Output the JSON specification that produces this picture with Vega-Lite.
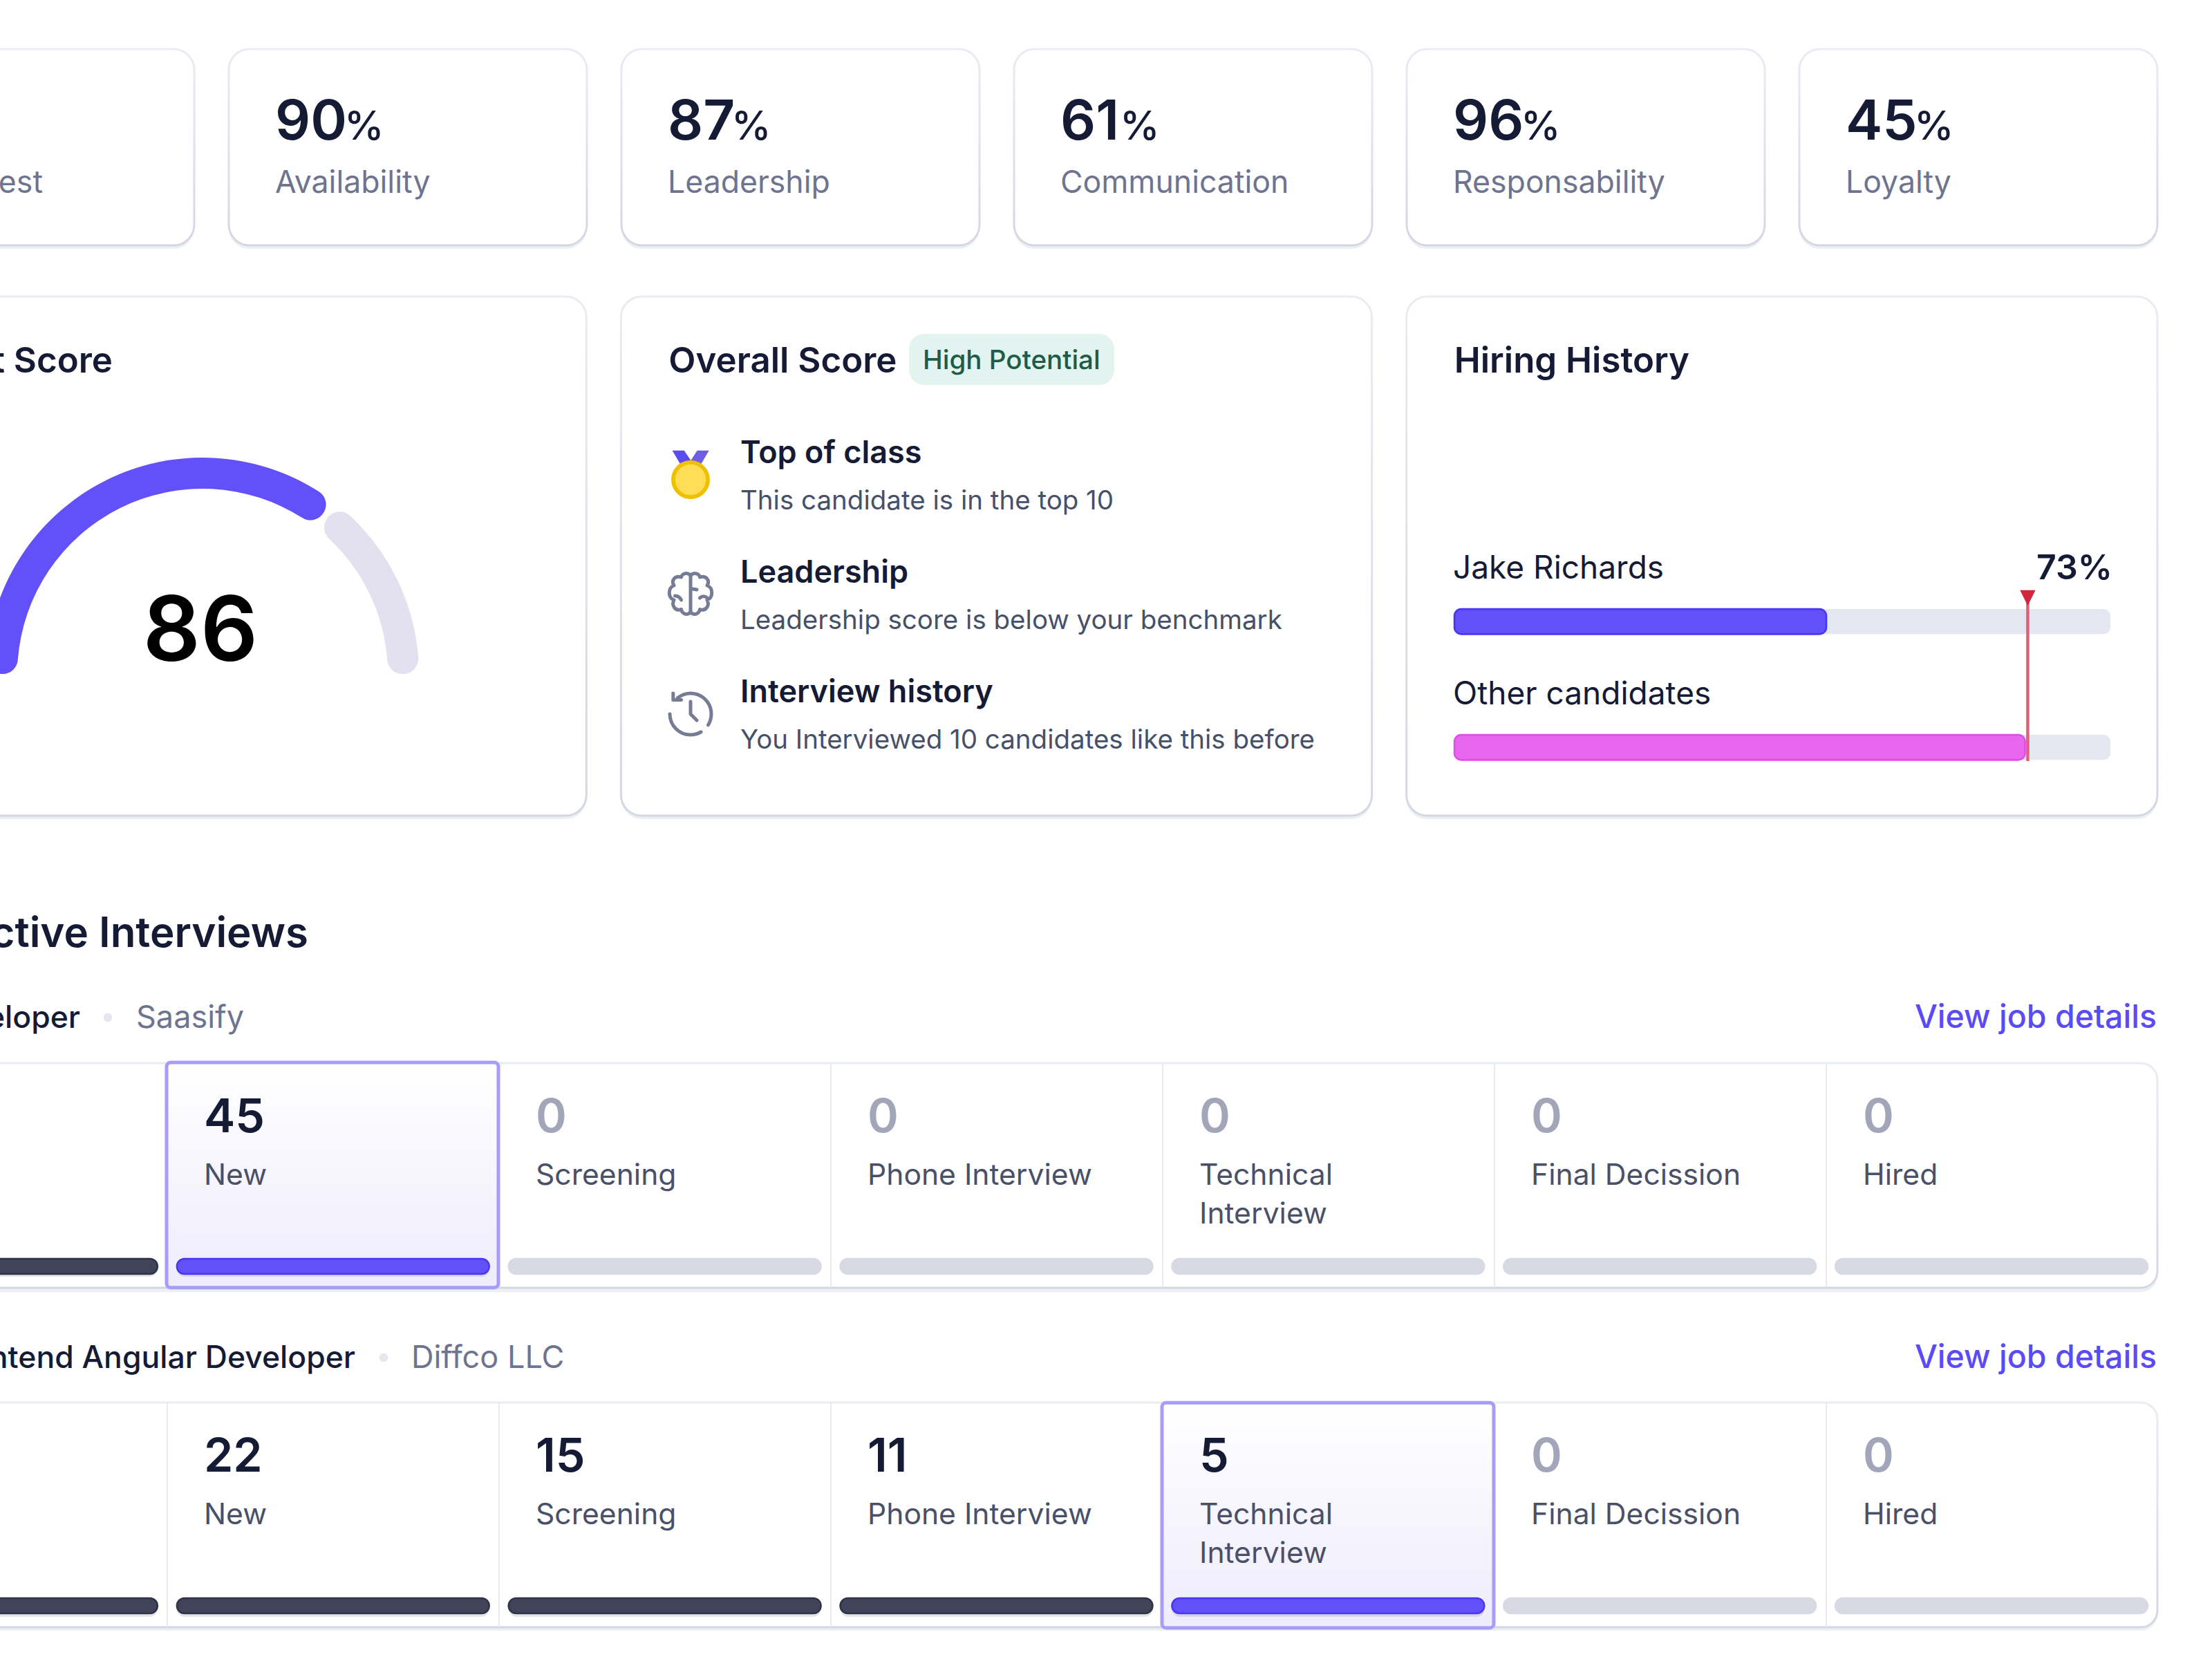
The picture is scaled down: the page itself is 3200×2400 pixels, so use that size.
{
"$schema":"https://vega.github.io/schema/vega-lite/v6.json",
"width":3200,"height":2400,"autosize":{"type":"none"},"padding":0,"background":"#ffffff",
"config":{"view":{"stroke":null},"axis":{"disable":true},"legend":{"disable":true},"font":"Inter","text":{"font":"Inter","baseline":"alphabetic","align":"left"}},
"datasets":{
"ratings":[{"row":"Ratings","metric":"Interest","score":null,"unit":""},{"row":"Ratings","metric":"Availability","score":90,"unit":"%"},{"row":"Ratings","metric":"Leadership","score":87,"unit":"%"},{"row":"Ratings","metric":"Communication","score":61,"unit":"%"},{"row":"Ratings","metric":"Responsability","score":96,"unit":"%"},{"row":"Ratings","metric":"Loyalty","score":45,"unit":"%"}],
"panels":[{"row":"Panels","panel":"Talent Score"},{"row":"Panels","panel":"Overall Score"},{"row":"Panels","panel":"Hiring History"}],
"gauge":[{"gauge":"Talent Score","segment":"Score","start":0,"end":70.5},{"gauge":"Talent Score","segment":"Remaining","start":71.5,"end":100}],
"gaugeValue":[{"gauge":"Talent Score","score":86}],
"badge":[{"badge":"High Potential"}],
"items":[{"panel":"Overall Score","title":"Top of class","detail":"This candidate is in the top 10"},{"panel":"Overall Score","title":"Leadership","detail":"Leadership score is below your benchmark"},{"panel":"Overall Score","title":"Interview history","detail":"You Interviewed 10 candidates like this before"}],
"medal":[{"icon":"Top of class","part":"left"},{"icon":"Top of class","part":"right"},{"icon":"Top of class","part":"rim"},{"icon":"Top of class","part":"face"}],
"lineIcons":[{"icon":"Leadership"},{"icon":"Interview history"}],
"hiring":[{"candidate":"Jake Richards","share":56.7,"track":100,"label":"73%"},{"candidate":"Other candidates","share":87,"track":100,"label":""}],
"benchmark":[{"benchmark":87.4,"low":0,"high":100}],
"heading":[{"heading":"Active Interviews"}],
"jobs":[{"job":"Developer","company":"Saasify","link":"View job details"},{"job":"Frontend Angular Developer","company":"Diffco LLC","link":"View job details"}],
"pipeline":[
{"company":"Saasify","stage":"Applied","count":null,"status":"done"},{"company":"Saasify","stage":"New","count":45,"status":"active"},{"company":"Saasify","stage":"Screening","count":0,"status":"empty"},{"company":"Saasify","stage":"Phone Interview","count":0,"status":"empty"},{"company":"Saasify","stage":"Technical\nInterview","count":0,"status":"empty"},{"company":"Saasify","stage":"Final Decission","count":0,"status":"empty"},{"company":"Saasify","stage":"Hired","count":0,"status":"empty"},
{"company":"Diffco LLC","stage":"Applied","count":null,"status":"done"},{"company":"Diffco LLC","stage":"New","count":22,"status":"done"},{"company":"Diffco LLC","stage":"Screening","count":15,"status":"done"},{"company":"Diffco LLC","stage":"Phone Interview","count":11,"status":"done"},{"company":"Diffco LLC","stage":"Technical\nInterview","count":5,"status":"active"},{"company":"Diffco LLC","stage":"Final Decission","count":0,"status":"empty"},{"company":"Diffco LLC","stage":"Hired","count":0,"status":"empty"}]
},
"resolve":{"scale":{"x":"independent","y":"independent","color":"independent","stroke":"independent","fill":"independent","shape":"independent","theta":"independent"}},
"layer":[
{"data":{"name":"ratings"},"mark":{"type":"rect","fill":"#EDEFF4","cornerRadius":30},
"encoding":{"x":{"field":"metric","type":"nominal","scale":{"type":"band","domain":["Interest","Availability","Leadership","Communication","Responsability","Loyalty"],"range":[-237,3121],"paddingInner":0.088,"paddingOuter":0}},"y":{"field":"row","type":"nominal","scale":{"type":"band","domain":["Ratings"],"range":[74,360],"paddingInner":0,"paddingOuter":0}}}},
{"data":{"name":"ratings"},"mark":{"type":"rect","fill":"#ffffff","cornerRadius":30,"strokeWidth":3,"stroke":{"gradient":"linear","x1":0,"y1":0,"x2":0,"y2":1,"stops":[{"offset":0,"color":"#E9ECF3"},{"offset":1,"color":"#D3D7E1"}]}},
"encoding":{"x":{"field":"metric","type":"nominal","sort":null,"scale":{"type":"band","domain":["Interest","Availability","Leadership","Communication","Responsability","Loyalty"],"range":[-237,3121],"paddingInner":0.088,"paddingOuter":0}},"y":{"field":"row","type":"nominal","scale":{"type":"band","domain":["Ratings"],"range":[71,355],"paddingInner":0,"paddingOuter":0}}}},
{"data":{"name":"ratings"},"transform":[{"filter":"datum.score != null"}],"mark":{"type":"text","dx":67,"dy":131,"fontSize":80,"fontWeight":600,"color":"#151A35"},
"encoding":{"text":{"field":"score"},"x":{"field":"metric","type":"nominal","bandPosition":0,"scale":{"type":"band","domain":["Interest","Availability","Leadership","Communication","Responsability","Loyalty"],"range":[-237,3121],"paddingInner":0.088,"paddingOuter":0}},"y":{"field":"row","type":"nominal","bandPosition":0,"scale":{"type":"band","domain":["Ratings"],"range":[71,355],"paddingInner":0,"paddingOuter":0}}}},
{"data":{"name":"ratings"},"transform":[{"filter":"datum.score != null"}],"mark":{"type":"text","dx":{"expr":"{'90':167,'87':159,'61':153,'96':165,'45':166}[datum.score]"},"dy":131,"fontSize":58,"fontWeight":500,"color":"#151A35"},
"encoding":{"text":{"field":"unit"},"x":{"field":"metric","type":"nominal","bandPosition":0,"scale":{"type":"band","domain":["Interest","Availability","Leadership","Communication","Responsability","Loyalty"],"range":[-237,3121],"paddingInner":0.088,"paddingOuter":0}},"y":{"field":"row","type":"nominal","bandPosition":0,"scale":{"type":"band","domain":["Ratings"],"range":[71,355],"paddingInner":0,"paddingOuter":0}}}},
{"data":{"name":"ratings"},"transform":[{"filter":"datum.score != null"}],"mark":{"type":"text","dx":67,"dy":208,"fontSize":44.6,"color":"#6E7490"},
"encoding":{"text":{"field":"metric"},"x":{"field":"metric","type":"nominal","bandPosition":0,"scale":{"type":"band","domain":["Interest","Availability","Leadership","Communication","Responsability","Loyalty"],"range":[-237,3121],"paddingInner":0.088,"paddingOuter":0}},"y":{"field":"row","type":"nominal","bandPosition":0,"scale":{"type":"band","domain":["Ratings"],"range":[71,355],"paddingInner":0,"paddingOuter":0}}}},
{"data":{"name":"ratings"},"transform":[{"filter":"datum.score == null"}],"mark":{"type":"text","align":"right","dy":208,"fontSize":44.6,"color":"#6E7490"},
"encoding":{"text":{"field":"metric"},"x":{"field":"metric","type":"nominal","bandPosition":0,"scale":{"type":"band","domain":["Interest"],"range":[62,64],"paddingInner":0,"paddingOuter":0}},"y":{"field":"row","type":"nominal","bandPosition":0,"scale":{"type":"band","domain":["Ratings"],"range":[71,355],"paddingInner":0,"paddingOuter":0}}}},

{"data":{"name":"panels"},"mark":{"type":"rect","fill":"#EDEFF4","cornerRadius":30},
"encoding":{"x":{"field":"panel","type":"nominal","scale":{"type":"band","domain":["Talent Score","Overall Score","Hiring History"],"range":[-238,3121],"paddingInner":0.044,"paddingOuter":0}},"y":{"field":"row","type":"nominal","scale":{"type":"band","domain":["Panels"],"range":[432,1185],"paddingInner":0,"paddingOuter":0}}}},
{"data":{"name":"panels"},"mark":{"type":"rect","fill":"#ffffff","cornerRadius":30,"strokeWidth":3,"stroke":{"gradient":"linear","x1":0,"y1":0,"x2":0,"y2":1,"stops":[{"offset":0,"color":"#E9ECF3"},{"offset":1,"color":"#D3D7E1"}]}},
"encoding":{"x":{"field":"panel","type":"nominal","scale":{"type":"band","domain":["Talent Score","Overall Score","Hiring History"],"range":[-238,3121],"paddingInner":0.044,"paddingOuter":0}},"y":{"field":"row","type":"nominal","scale":{"type":"band","domain":["Panels"],"range":[429,1180],"paddingInner":0,"paddingOuter":0}}}},
{"data":{"name":"panels"},"transform":[{"filter":"datum.panel != 'Talent Score'"}],"mark":{"type":"text","dx":69,"dy":110,"fontSize":51,"fontWeight":600,"color":"#151A35"},
"encoding":{"text":{"field":"panel"},"x":{"field":"panel","type":"nominal","bandPosition":0,"scale":{"type":"band","domain":["Talent Score","Overall Score","Hiring History"],"range":[-238,3121],"paddingInner":0.044,"paddingOuter":0}},"y":{"field":"row","type":"nominal","bandPosition":0,"scale":{"type":"band","domain":["Panels"],"range":[429,1180],"paddingInner":0,"paddingOuter":0}}}},
{"data":{"name":"panels"},"transform":[{"filter":"datum.panel == 'Talent Score'"}],"mark":{"type":"text","align":"right","dy":110,"fontSize":51,"fontWeight":600,"color":"#151A35"},
"encoding":{"text":{"field":"panel"},"x":{"field":"panel","type":"nominal","bandPosition":0,"scale":{"type":"band","domain":["Talent Score"],"range":[163,165],"paddingInner":0,"paddingOuter":0}},"y":{"field":"row","type":"nominal","bandPosition":0,"scale":{"type":"band","domain":["Panels"],"range":[429,1180],"paddingInner":0,"paddingOuter":0}}}},

{"data":{"name":"gauge"},"mark":{"type":"arc","radius":313,"radius2":268,"cornerRadius":22},
"encoding":{"x":{"field":"gauge","type":"nominal","scale":{"type":"band","domain":["Talent Score"],"range":[292,294],"paddingInner":0,"paddingOuter":0}},"y":{"field":"gauge","type":"nominal","scale":{"type":"band","domain":["Talent Score"],"range":[974,976],"paddingInner":0,"paddingOuter":0}},"theta":{"field":"start","type":"quantitative","stack":null,"scale":{"domain":[0,100],"range":[-1.5708,1.5708]}},"theta2":{"field":"end"},"fill":{"field":"segment","type":"nominal","scale":{"domain":["Score","Remaining"],"range":["#6251FA","#E3E1EF"]}}}},
{"data":{"name":"gaugeValue"},"mark":{"type":"text","align":"center","fontSize":130,"fontWeight":600,"color":"#000000"},
"encoding":{"text":{"field":"score"},"x":{"field":"gauge","type":"nominal","scale":{"type":"band","domain":["Talent Score"],"range":[289,291],"paddingInner":0,"paddingOuter":0}},"y":{"field":"gauge","type":"nominal","scale":{"type":"band","domain":["Talent Score"],"range":[955,957],"paddingInner":0,"paddingOuter":0}}}},

{"data":{"name":"badge"},"mark":{"type":"rect","fill":"#E3F4F0","cornerRadius":22},
"encoding":{"x":{"field":"badge","type":"nominal","scale":{"type":"band","domain":["High Potential"],"range":[1315,1612],"paddingInner":0,"paddingOuter":0}},"y":{"field":"badge","type":"nominal","scale":{"type":"band","domain":["High Potential"],"range":[483,557],"paddingInner":0,"paddingOuter":0}}}},
{"data":{"name":"badge"},"mark":{"type":"text","fontSize":38.6,"fontWeight":500,"color":"#1F5C47"},
"encoding":{"text":{"field":"badge"},"x":{"field":"badge","type":"nominal","bandPosition":0,"scale":{"type":"band","domain":["High Potential"],"range":[1335,1612],"paddingInner":0,"paddingOuter":0}},"y":{"field":"badge","type":"nominal","bandPosition":0,"scale":{"type":"band","domain":["High Potential"],"range":[534,557],"paddingInner":0,"paddingOuter":0}}}},

{"data":{"name":"items"},"mark":{"type":"text","fontSize":45,"fontWeight":600,"color":"#151A35"},
"encoding":{"text":{"field":"title"},"x":{"field":"panel","type":"nominal","bandPosition":0,"scale":{"type":"band","domain":["Overall Score"],"range":[1071,1984],"paddingInner":0,"paddingOuter":0}},"y":{"field":"title","type":"nominal","bandPosition":0,"scale":{"type":"band","domain":["Top of class","Leadership","Interview history"],"range":[670,1189],"paddingInner":0,"paddingOuter":0}}}},
{"data":{"name":"items"},"mark":{"type":"text","dy":67,"fontSize":38.5,"color":"#475069"},
"encoding":{"text":{"field":"detail"},"x":{"field":"panel","type":"nominal","bandPosition":0,"scale":{"type":"band","domain":["Overall Score"],"range":[1071,1984],"paddingInner":0,"paddingOuter":0}},"y":{"field":"title","type":"nominal","bandPosition":0,"scale":{"type":"band","domain":["Top of class","Leadership","Interview history"],"range":[670,1189],"paddingInner":0,"paddingOuter":0}}}},
{"data":{"name":"medal"},"mark":{"type":"point","filled":true,"size":3600,"opacity":1},
"encoding":{"x":{"field":"icon","type":"nominal","scale":{"type":"band","domain":["Top of class"],"range":[998,1000],"paddingInner":0,"paddingOuter":0}},"y":{"field":"icon","type":"nominal","scale":{"type":"band","domain":["Top of class"],"range":[693,695],"paddingInner":0,"paddingOuter":0}},
"shape":{"field":"part","type":"nominal","scale":{"domain":["left","right","rim","face"],"range":["M-0.88,-1.41 L-0.31,-1.41 L0.1,-0.8 L-0.46,-0.69 Z","M0.89,-1.41 L0.32,-1.41 L-0.07,-0.8 L0.47,-0.69 Z","M-0.93,0 A0.93,0.93 0 1 1 0.93,0 A0.93,0.93 0 1 1 -0.93,0 Z","M-0.74,0 A0.74,0.74 0 1 1 0.74,0 A0.74,0.74 0 1 1 -0.74,0 Z"]}},
"color":{"field":"part","type":"nominal","scale":{"domain":["left","right","rim","face"],"range":["#5B4CF2","#6E5FE0","#F0C000","#FFDD57"]}}}},
{"data":{"name":"lineIcons"},"transform":[{"filter":"datum.icon == 'Leadership'"}],"mark":{"type":"point","filled":false,"size":3600,"stroke":"#767C93","strokeWidth":5,"opacity":1,"strokeCap":"round","strokeJoin":"round","shape":"M0,-0.8 C0,-1.05 0.4,-1.05 0.45,-0.8 C0.75,-0.9 0.95,-0.65 0.8,-0.4 C1.1,-0.3 1.1,0.2 0.8,0.3 C0.95,0.6 0.7,0.85 0.45,0.75 C0.4,1.05 0,1.05 0,0.8 C0,1.05 -0.4,1.05 -0.45,0.75 C-0.7,0.85 -0.95,0.6 -0.8,0.3 C-1.1,0.2 -1.1,-0.3 -0.8,-0.4 C-0.95,-0.65 -0.75,-0.9 -0.45,-0.8 C-0.4,-1.05 0,-1.05 0,-0.8 L0,0.8 M0,-0.25 L0.3,-0.2 M0.45,0.2 C0.55,0.1 0.7,0.1 0.8,0.2 M-0.75,0.1 C-0.6,0.1 -0.5,0.2 -0.45,0.3"},
"encoding":{"x":{"field":"icon","type":"nominal","scale":{"type":"band","domain":["Leadership"],"range":[998,1000],"paddingInner":0,"paddingOuter":0}},"y":{"field":"icon","type":"nominal","scale":{"type":"band","domain":["Leadership"],"range":[858,860],"paddingInner":0,"paddingOuter":0}}}},
{"data":{"name":"lineIcons"},"transform":[{"filter":"datum.icon == 'Interview history'"}],"mark":{"type":"point","filled":false,"size":3600,"stroke":"#767C93","strokeWidth":5,"opacity":1,"strokeCap":"round","strokeJoin":"round","shape":"M-0.62,-0.785 C-0.43,-0.92 -0.22,-1 0,-1 C0.552,-1 1,-0.552 1,0 C1,0.19 0.945,0.37 0.85,0.527 M0.5,0.866 C0.35,0.95 0.18,1 0,1 C-0.552,1 -1,0.552 -1,0 M-0.84,-1 L-0.84,-0.68 L-0.45,-0.68 M0,-0.6 L0,0 L0.3,0.3"},
"encoding":{"x":{"field":"icon","type":"nominal","scale":{"type":"band","domain":["Interview history"],"range":[998,1000],"paddingInner":0,"paddingOuter":0}},"y":{"field":"icon","type":"nominal","scale":{"type":"band","domain":["Interview history"],"range":[1032,1034],"paddingInner":0,"paddingOuter":0}}}},

{"data":{"name":"hiring"},"mark":{"type":"bar","fill":"#E5E7F0","cornerRadius":10},
"encoding":{"x":{"field":"track","type":"quantitative","scale":{"domain":[0,100],"range":[2104,3053]}},"y":{"field":"candidate","type":"nominal","scale":{"type":"band","domain":["Jake Richards","Other candidates"],"range":[881,1099.4],"paddingInner":0.8,"paddingOuter":0}}}},
{"data":{"name":"hiring"},"mark":{"type":"bar","cornerRadius":10,"strokeWidth":2.5},
"encoding":{"x":{"field":"share","type":"quantitative","scale":{"domain":[0,100],"range":[2104,3053]}},"y":{"field":"candidate","type":"nominal","scale":{"type":"band","domain":["Jake Richards","Other candidates"],"range":[881,1099.4],"paddingInner":0.8,"paddingOuter":0}},
"fill":{"field":"candidate","type":"nominal","scale":{"domain":["Jake Richards","Other candidates"],"range":["#6251FA","#E766EE"]}},"stroke":{"field":"candidate","type":"nominal","scale":{"domain":["Jake Richards","Other candidates"],"range":["#4A35F5","#E24CE9"]}}}},
{"data":{"name":"hiring"},"mark":{"type":"text","dy":-44,"fontSize":46,"fontWeight":400,"color":"#151A35"},
"encoding":{"text":{"field":"candidate"},"x":{"datum":0,"type":"quantitative","scale":{"domain":[0,100],"range":[2102,3053]}},"y":{"field":"candidate","type":"nominal","bandPosition":0,"scale":{"type":"band","domain":["Jake Richards","Other candidates"],"range":[881,1099.4],"paddingInner":0.8,"paddingOuter":0}}}},
{"data":{"name":"hiring"},"mark":{"type":"text","align":"right","dx":3,"dy":-43,"fontSize":50,"fontWeight":600,"color":"#151A35"},
"encoding":{"text":{"field":"label"},"x":{"datum":100,"type":"quantitative","scale":{"domain":[0,100],"range":[2104,3053]}},"y":{"field":"candidate","type":"nominal","bandPosition":0,"scale":{"type":"band","domain":["Jake Richards","Other candidates"],"range":[881,1099.4],"paddingInner":0.8,"paddingOuter":0}}}},
{"data":{"name":"benchmark"},"mark":{"type":"rule","color":"#E0607A","strokeWidth":4.5},
"encoding":{"x":{"field":"benchmark","type":"quantitative","scale":{"domain":[0,100],"range":[2104,3053]}},"y":{"field":"low","type":"quantitative","scale":{"domain":[0,100],"range":[1101,860]}},"y2":{"field":"high"}}},
{"data":{"name":"benchmark"},"mark":{"type":"point","filled":true,"opacity":1,"size":500,"color":"#D0263F","shape":"M-1,-1 L1,-1 L0,1 Z"},
"encoding":{"x":{"field":"benchmark","type":"quantitative","scale":{"domain":[0,100],"range":[2104,3053]}},"y":{"field":"high","type":"quantitative","scale":{"domain":[0,100],"range":[1101,865]}}}},

{"data":{"name":"heading"},"mark":{"type":"text","align":"right","fontSize":60,"fontWeight":600,"color":"#151A35"},
"encoding":{"text":{"field":"heading"},"x":{"field":"heading","type":"nominal","bandPosition":0,"scale":{"type":"band","domain":["Active Interviews"],"range":[446,448],"paddingInner":0,"paddingOuter":0}},"y":{"field":"heading","type":"nominal","bandPosition":0,"scale":{"type":"band","domain":["Active Interviews"],"range":[1370,1372],"paddingInner":0,"paddingOuter":0}}}},
{"data":{"name":"jobs"},"mark":{"type":"text","align":"right","fontSize":44.5,"fontWeight":500,"color":"#151A35"},
"encoding":{"text":{"field":"job"},"x":{"field":"company","type":"nominal","bandPosition":0,"scale":{"type":"band","domain":["Saasify","Diffco LLC"],"range":[116,912],"paddingInner":0,"paddingOuter":0}},"y":{"field":"company","type":"nominal","bandPosition":0,"scale":{"type":"band","domain":["Saasify","Diffco LLC"],"range":[1487,2471],"paddingInner":0,"paddingOuter":0}}}},
{"data":{"name":"jobs"},"mark":{"type":"point","filled":true,"opacity":1,"shape":"circle","size":154,"color":"#E5E7F0"},
"encoding":{"x":{"field":"company","type":"nominal","bandPosition":0,"scale":{"type":"band","domain":["Saasify","Diffco LLC"],"range":[156,954],"paddingInner":0,"paddingOuter":0}},"y":{"field":"company","type":"nominal","bandPosition":0,"scale":{"type":"band","domain":["Saasify","Diffco LLC"],"range":[1472,2456],"paddingInner":0,"paddingOuter":0}}}},
{"data":{"name":"jobs"},"mark":{"type":"text","fontSize":45,"color":"#6E7490"},
"encoding":{"text":{"field":"company"},"x":{"field":"company","type":"nominal","bandPosition":0,"scale":{"type":"band","domain":["Saasify","Diffco LLC"],"range":[197,993],"paddingInner":0,"paddingOuter":0}},"y":{"field":"company","type":"nominal","bandPosition":0,"scale":{"type":"band","domain":["Saasify","Diffco LLC"],"range":[1487,2471],"paddingInner":0,"paddingOuter":0}}}},
{"data":{"name":"jobs"},"mark":{"type":"text","align":"right","fontSize":46.5,"fontWeight":500,"color":"#5B4AF7"},
"encoding":{"text":{"field":"link"},"x":{"field":"link","type":"nominal","bandPosition":0,"scale":{"type":"band","domain":["View job details"],"range":[3120,3122],"paddingInner":0,"paddingOuter":0}},"y":{"field":"company","type":"nominal","bandPosition":0,"scale":{"type":"band","domain":["Saasify","Diffco LLC"],"range":[1487,2471],"paddingInner":0,"paddingOuter":0}}}},

{"data":{"name":"jobs"},"mark":{"type":"rect","fill":"#EDEFF4","cornerRadius":24},
"encoding":{"x":{"field":"link","type":"nominal","scale":{"type":"band","domain":["View job details"],"range":[-239,3121],"paddingInner":0,"paddingOuter":0}},"y":{"field":"company","type":"nominal","scale":{"type":"band","domain":["Saasify","Diffco LLC"],"range":[1541,2359],"paddingInner":0.33,"paddingOuter":0}}}},
{"data":{"name":"jobs"},"mark":{"type":"rect","fill":"#ffffff","cornerRadius":24,"strokeWidth":3,"stroke":{"gradient":"linear","x1":0,"y1":0,"x2":0,"y2":1,"stops":[{"offset":0,"color":"#E9ECF3"},{"offset":1,"color":"#D3D7E1"}]}},
"encoding":{"x":{"field":"link","type":"nominal","scale":{"type":"band","domain":["View job details"],"range":[-239,3121],"paddingInner":0,"paddingOuter":0}},"y":{"field":"company","type":"nominal","scale":{"type":"band","domain":["Saasify","Diffco LLC"],"range":[1538,2354],"paddingInner":0.338,"paddingOuter":0}}}},
{"data":{"name":"pipeline"},"mark":{"type":"rect","fill":"#E8EAF1"},
"encoding":{"x":{"field":"stage","type":"nominal","scale":{"type":"band","domain":["Applied","New","Screening","Phone Interview","Technical\nInterview","Final Decission","Hired"],"range":[-239,2643],"paddingInner":0.99583,"paddingOuter":0}},"y":{"field":"company","type":"nominal","scale":{"type":"band","domain":["Saasify","Diffco LLC"],"range":[1538,2354],"paddingInner":0.338,"paddingOuter":0}}}},
{"data":{"name":"pipeline"},"transform":[{"filter":"datum.status == 'active'"}],"mark":{"type":"rect","cornerRadius":6,"stroke":"#A79CF8","strokeWidth":5,"fill":{"gradient":"linear","x1":0,"y1":0,"x2":0,"y2":1,"stops":[{"offset":0,"color":"#FFFFFF"},{"offset":1,"color":"#EEECFC"}]}},
"encoding":{"x":{"field":"stage","type":"nominal","scale":{"type":"band","domain":["Applied","New","Screening","Phone Interview","Technical\nInterview","Final Decission","Hired"],"range":[-239,3121],"paddingInner":0,"paddingOuter":0}},"y":{"field":"company","type":"nominal","scale":{"type":"band","domain":["Saasify","Diffco LLC"],"range":[1537,2355],"paddingInner":0.338,"paddingOuter":0}}}},
{"data":{"name":"pipeline"},"transform":[{"filter":"datum.status != 'empty'"}],"mark":{"type":"rect","cornerRadius":11,"fill":"#2E3347","opacity":0.12},
"encoding":{"x":{"field":"stage","type":"nominal","scale":{"type":"band","domain":["Applied","New","Screening","Phone Interview","Technical\nInterview","Final Decission","Hired"],"range":[-224,3107],"paddingInner":0.0583,"paddingOuter":0}},"y":{"field":"company","type":"nominal","scale":{"type":"band","domain":["Saasify","Diffco LLC"],"range":[1825,2339],"paddingInner":0.9552,"paddingOuter":0}}}},
{"data":{"name":"pipeline"},"mark":{"type":"rect","cornerRadius":11,"strokeWidth":2.5},
"encoding":{"x":{"field":"stage","type":"nominal","scale":{"type":"band","domain":["Applied","New","Screening","Phone Interview","Technical\nInterview","Final Decission","Hired"],"range":[-224,3107],"paddingInner":0.0583,"paddingOuter":0}},"y":{"field":"company","type":"nominal","scale":{"type":"band","domain":["Saasify","Diffco LLC"],"range":[1821,2334],"paddingInner":0.9552,"paddingOuter":0}},
"fill":{"field":"status","type":"nominal","scale":{"domain":["done","active","empty"],"range":["#3F445A","#6251FA","#D8DAE3"]}},"stroke":{"field":"status","type":"nominal","scale":{"domain":["done","active","empty"],"range":["#2E3347","#4A35F5","#D8DAE3"]}}}},
{"data":{"name":"pipeline"},"transform":[{"filter":"datum.count != null"}],"mark":{"type":"text","dx":54,"dy":100,"fontSize":68,"fontWeight":600},
"encoding":{"text":{"field":"count"},"color":{"field":"status","type":"nominal","scale":{"domain":["done","active","empty"],"range":["#151A35","#151A35","#A2A6B8"]}},"x":{"field":"stage","type":"nominal","bandPosition":0,"scale":{"type":"band","domain":["Applied","New","Screening","Phone Interview","Technical\nInterview","Final Decission","Hired"],"range":[-239,3121],"paddingInner":0,"paddingOuter":0}},"y":{"field":"company","type":"nominal","bandPosition":0,"scale":{"type":"band","domain":["Saasify","Diffco LLC"],"range":[1538,2354],"paddingInner":0.338,"paddingOuter":0}}}},
{"data":{"name":"pipeline"},"transform":[{"filter":"datum.count != null"}],"mark":{"type":"text","dx":54,"dy":176,"fontSize":42.6,"color":"#4A5068","lineBreak":"\n","lineHeight":56},
"encoding":{"text":{"field":"stage"},"x":{"field":"stage","type":"nominal","bandPosition":0,"scale":{"type":"band","domain":["Applied","New","Screening","Phone Interview","Technical\nInterview","Final Decission","Hired"],"range":[-239,3121],"paddingInner":0,"paddingOuter":0}},"y":{"field":"company","type":"nominal","bandPosition":0,"scale":{"type":"band","domain":["Saasify","Diffco LLC"],"range":[1538,2354],"paddingInner":0.338,"paddingOuter":0}}}}
]
}
